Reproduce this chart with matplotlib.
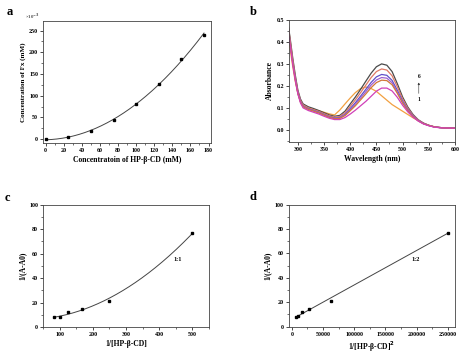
import numpy as np
import matplotlib
matplotlib.use("Agg")
import matplotlib.pyplot as plt
from matplotlib.ticker import AutoMinorLocator

plt.rcParams['font.family'] = ['Liberation Serif', 'DejaVu Serif']
plt.rcParams['font.weight'] = 'bold'
plt.rcParams['axes.labelweight'] = 'bold'

# Panel a
conc_a = [0, 25, 50, 75, 100, 125, 150, 175]
fx_a = [0, 5, 18, 44, 80, 128, 185, 240]

# Panel b
wl = [280, 285, 290, 295, 300, 305, 310, 320, 330, 340, 350, 360, 370, 380, 390, 400, 410, 420,
      430, 440, 450, 460, 470, 480, 490, 500, 510, 520, 530, 540, 550, 560, 570, 580, 590, 600]
spec_orange = [0.45, 0.37, 0.29, 0.22, 0.165, 0.128, 0.11, 0.1, 0.093, 0.087, 0.08, 0.073, 0.068, 0.09, 0.118, 0.145, 0.17, 0.188,
               0.195, 0.188, 0.175, 0.155, 0.135, 0.115, 0.1, 0.085, 0.07, 0.055, 0.042, 0.03, 0.021, 0.015, 0.011, 0.009, 0.008, 0.008]
spec_6 = [0.50, 0.42, 0.33, 0.25, 0.18, 0.14, 0.118, 0.105, 0.097, 0.088, 0.078, 0.068, 0.062, 0.066, 0.085, 0.118, 0.15, 0.185,
          0.222, 0.258, 0.287, 0.300, 0.294, 0.265, 0.21, 0.15, 0.104, 0.07, 0.046, 0.031, 0.021, 0.014, 0.011, 0.009, 0.008, 0.008]
spec_5 = [0.50, 0.41, 0.32, 0.24, 0.175, 0.135, 0.113, 0.1, 0.092, 0.084, 0.074, 0.064, 0.058, 0.061, 0.078, 0.107, 0.137, 0.17,
          0.204, 0.238, 0.265, 0.277, 0.272, 0.246, 0.196, 0.141, 0.098, 0.067, 0.045, 0.03, 0.021, 0.014, 0.011, 0.009, 0.008, 0.008]
spec_4 = [0.49, 0.40, 0.31, 0.235, 0.17, 0.13, 0.108, 0.096, 0.088, 0.08, 0.07, 0.06, 0.054, 0.056, 0.071, 0.097, 0.124, 0.154,
          0.185, 0.216, 0.241, 0.252, 0.248, 0.225, 0.18, 0.131, 0.092, 0.064, 0.043, 0.029, 0.02, 0.014, 0.011, 0.009, 0.008, 0.008]
spec_3 = [0.49, 0.40, 0.31, 0.232, 0.168, 0.128, 0.106, 0.094, 0.086, 0.078, 0.068, 0.058, 0.052, 0.054, 0.068, 0.092, 0.117, 0.145,
          0.174, 0.204, 0.227, 0.238, 0.235, 0.214, 0.172, 0.126, 0.089, 0.062, 0.042, 0.028, 0.02, 0.014, 0.011, 0.009, 0.008, 0.008]
spec_2 = [0.49, 0.40, 0.31, 0.23, 0.166, 0.126, 0.105, 0.093, 0.085, 0.077, 0.067, 0.057, 0.051, 0.052, 0.065, 0.087, 0.11, 0.137,
          0.164, 0.192, 0.215, 0.226, 0.224, 0.205, 0.166, 0.122, 0.087, 0.061, 0.041, 0.028, 0.02, 0.014, 0.011, 0.009, 0.008, 0.008]
spec_1 = [0.48, 0.39, 0.30, 0.225, 0.163, 0.122, 0.1, 0.088, 0.08, 0.072, 0.062, 0.053, 0.047, 0.047, 0.056, 0.072, 0.09, 0.11,
          0.13, 0.153, 0.176, 0.19, 0.19, 0.177, 0.148, 0.112, 0.082, 0.058, 0.04, 0.027, 0.019, 0.013, 0.01, 0.009, 0.008, 0.008]
spectra = [spec_orange, spec_6, spec_5, spec_4, spec_3, spec_2, spec_1]
spec_colors = ['#f2a040', '#4a4a4a', '#e07a66', '#6050c8', '#a060d0', '#d07838', '#d040b8']

# Panels c, d
inv_c = [83.3, 100, 125, 166.7, 250, 500]
inv_y = [8, 8.5, 12, 14.5, 21, 77]

fig = plt.figure(figsize=(4.74, 3.55), dpi=100)

tick_fs = 4.3
lab_fs = 5.5


def style(ax):
    ax.tick_params(direction='out', length=2, width=0.5, labelsize=tick_fs, pad=1.5)
    ax.tick_params(which='minor', direction='out', length=1.2, width=0.4)
    ax.tick_params(top=False, right=False)
    for s in ax.spines.values():
        s.set_linewidth(0.6)
        s.set_color('#444444')
    ax.xaxis.set_minor_locator(AutoMinorLocator(2))
    ax.yaxis.set_minor_locator(AutoMinorLocator(2))
    for lbl in ax.get_xticklabels() + ax.get_yticklabels():
        lbl.set_fontweight('bold')


# a
axa = fig.add_axes([0.0907, 0.597, 0.354, 0.344])
p = np.polyfit(conc_a, fx_a, 2)
xx = np.linspace(0, 175, 200)
axa.plot(xx, np.polyval(p, xx), color='#444444', lw=0.7)
axa.plot(conc_a, fx_a, 's', color='black', ms=1.8)
axa.set_xlim(-3, 182.5)
axa.set_ylim(-9, 272)
axa.set_xticks(range(0, 181, 20))
axa.set_yticks(range(0, 251, 50))
axa.set_xlabel('Concentratoin of HP-β-CD (mM)', fontsize=lab_fs, labelpad=2)
axa.set_ylabel('Concentration of Fx (mM)', fontsize=lab_fs - 0.5, labelpad=2)
axa.text(-0.02, 1.0, '×10$^{-3}$', transform=axa.transAxes, fontsize=3.5, ha='right', va='bottom', color='#555555')
style(axa)

# b
axb = fig.add_axes([0.6097, 0.6, 0.350, 0.344])
for s, c in zip(spectra, spec_colors):
    axb.plot(wl, s, color=c, lw=0.9)
axb.set_xlim(283, 600)
axb.set_ylim(-0.055, 0.5)
axb.set_xticks(range(300, 601, 50))
axb.set_yticks(np.arange(0, 0.51, 0.1))
axb.set_yticklabels([f'{v:.1f}' for v in np.arange(0, 0.51, 0.1)])
axb.set_xlabel('Wavelength (nm)', fontsize=lab_fs, labelpad=2)
axb.set_ylabel('Absorbance', fontsize=lab_fs, labelpad=2)
axb.text(531, 0.243, '6', fontsize=4, ha='center', va='center')
axb.text(531, 0.14, '1', fontsize=4, ha='center', va='center')
axb.annotate('', xy=(531, 0.228), xytext=(531, 0.153),
             arrowprops=dict(arrowstyle='-|>', lw=0.4, color='#333333', mutation_scale=3))
style(axb)

# c
axc = fig.add_axes([0.0907, 0.079, 0.350, 0.344])
inv_sq = [v ** 2 for v in inv_c]
q = np.polyfit(inv_sq, inv_y, 1)
xc = np.linspace(inv_c[0], inv_c[-1], 200)
axc.plot(xc, np.polyval(q, xc ** 2), color='#444444', lw=0.7)
axc.plot(inv_c, inv_y, 's', color='black', ms=1.8)
axc.set_xlim(50, 550)
axc.set_ylim(0, 100)
axc.set_xticks(range(100, 501, 100))
axc.set_yticks(range(0, 101, 20))
axc.set_xlabel('1/[HP-β-CD]', fontsize=lab_fs, labelpad=2)
axc.set_ylabel('1/(A-A0)', fontsize=lab_fs, labelpad=2)
axc.text(455, 55, '1:1', fontsize=4.5, ha='center', va='center')
style(axc)

# d
axd = fig.add_axes([0.609, 0.0797, 0.3515, 0.344])
xd = np.linspace(inv_sq[0], inv_sq[-1], 50)
axd.plot(xd, np.polyval(q, xd), color='#444444', lw=0.7)
axd.plot(inv_sq, inv_y, 's', color='black', ms=1.8)
axd.set_xlim(-5000, 262000)
axd.set_ylim(0, 100)
axd.set_xticks(range(0, 250001, 50000))
axd.set_yticks(range(0, 101, 20))
axd.set_xlabel('1/[HP-β-CD]$^2$', fontsize=lab_fs, labelpad=2)
axd.set_ylabel('1/(A-A0)', fontsize=lab_fs, labelpad=2)
axd.text(199000, 55, '1:2', fontsize=4.5, ha='center', va='center')
style(axd)

for lbl, x, y in [('a', 10, 12), ('b', 253, 12), ('c', 7, 198), ('d', 253, 197)]:
    fig.text(x / 474, 1 - y / 355, lbl, fontsize=9, fontweight='bold', ha='center', va='center')

fig.savefig('out.png', dpi=100)
